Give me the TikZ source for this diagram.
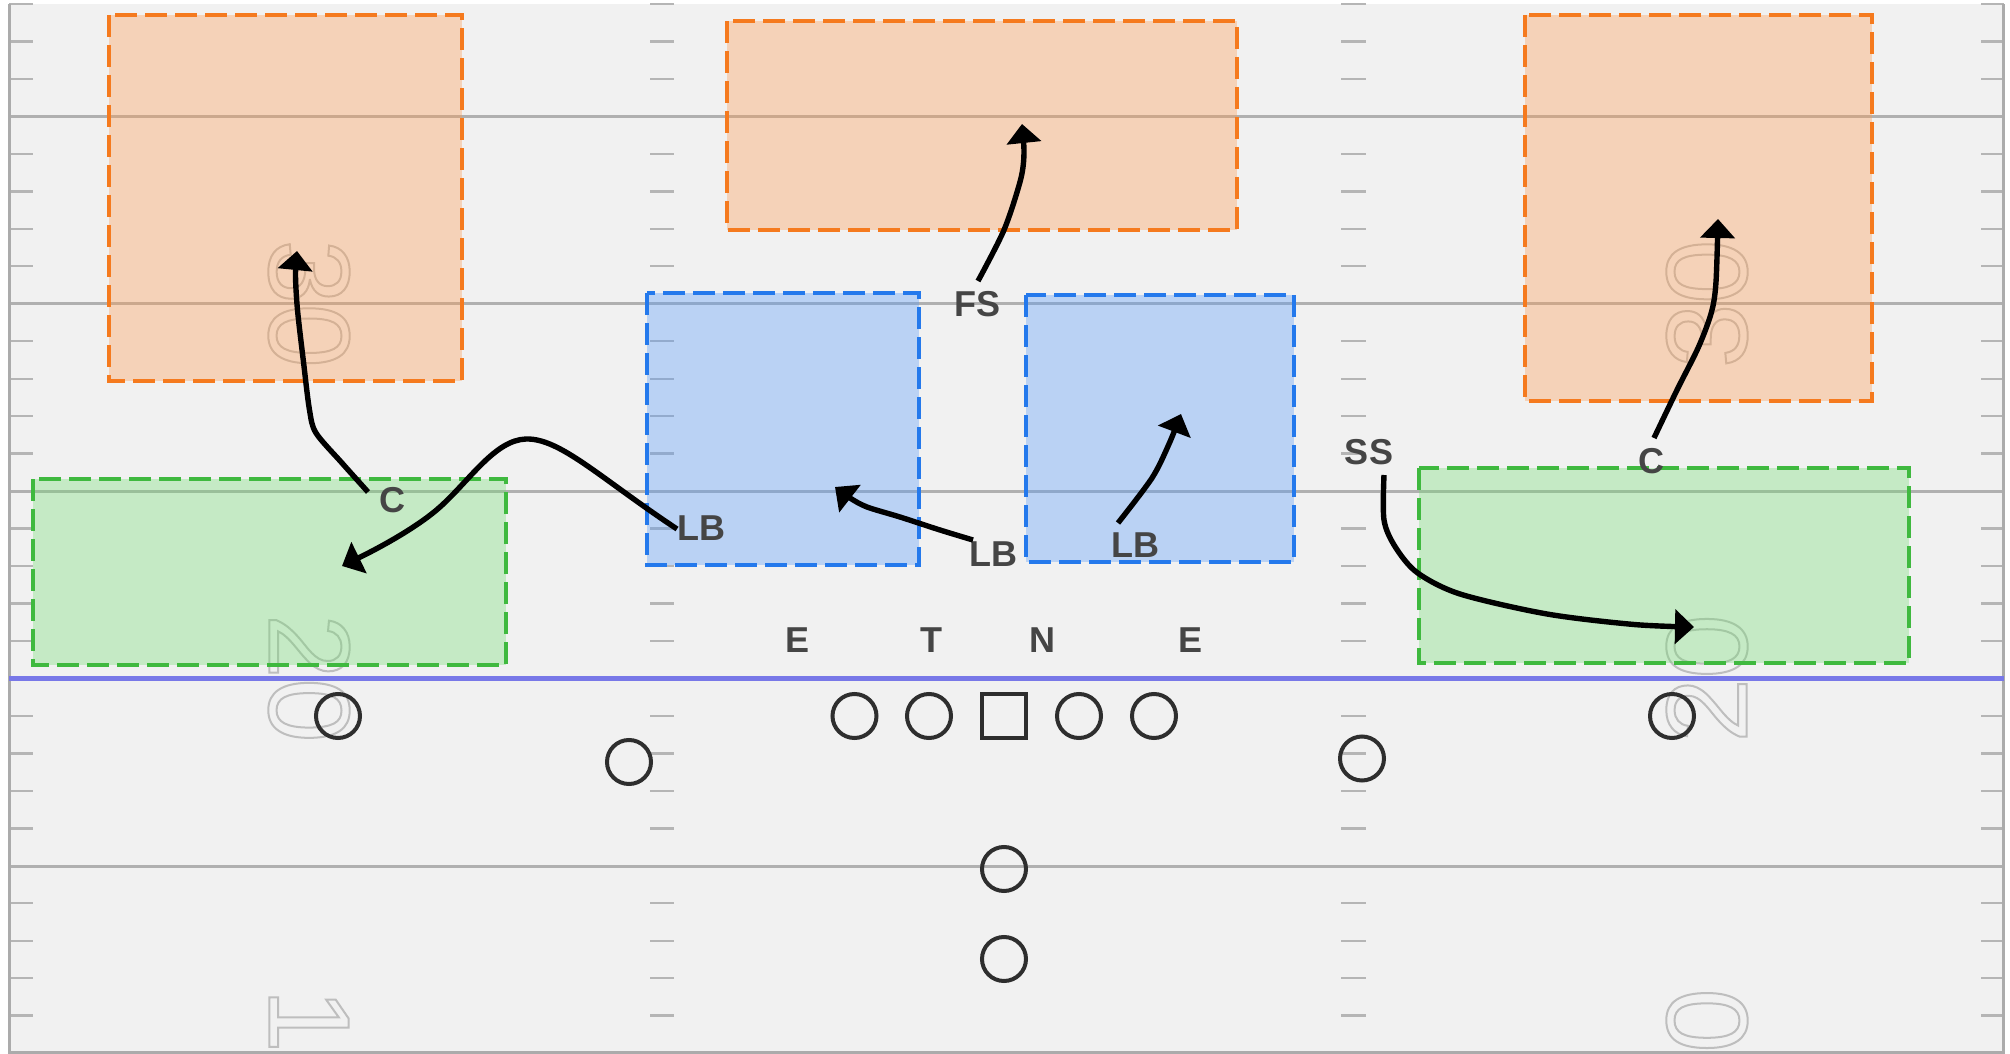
\documentclass[tikz,border=0pt]{standalone}
\usepackage{fontspec}
\setmainfont{Liberation Sans}
\usetikzlibrary{arrows.meta}
\definecolor{fieldbg}{HTML}{F1F1F1}
\definecolor{tickc}{HTML}{B5B5B5}
\definecolor{yardc}{HTML}{B0B0B0}
\definecolor{borderc}{HTML}{ABABAB}
\definecolor{losc}{HTML}{7878E8}
\definecolor{numgray}{HTML}{BEBEBE}
\definecolor{orangeB}{HTML}{F57A1E}
\definecolor{orangeF}{HTML}{FF9B4E}
\definecolor{blueB}{HTML}{2479EC}
\definecolor{blueF}{HTML}{549BFC}
\definecolor{greenB}{HTML}{3FB93F}
\definecolor{greenF}{HTML}{73DD73}
\definecolor{playerc}{HTML}{2E2E2E}
\definecolor{labelc}{HTML}{454545}
\newcommand{\outlinetext}[1]{\special{pdf:literal direct 1 Tr 1 w}#1\special{pdf:literal direct 0 Tr}}
\begin{document}
\begin{tikzpicture}[x=0.5pt,y=-0.5pt,
  tickline/.style={draw=tickc, line width=1.2pt},
  yardline/.style={draw=yardc, line width=1.5pt},
  yardnum/.style={inner sep=0pt, text=numgray, font=\fontsize{57.5}{60}\selectfont},
  zone/.style={line width=1.6pt, dash pattern=on 11pt off 4pt, fill opacity=0.35},
  zoneO/.style={zone, draw=orangeB, fill=orangeF},
  zoneB/.style={zone, draw=blueB, fill=blueF},
  zoneG/.style={zone, draw=greenB, fill=greenF},
  pl/.style={circle, draw=playerc, line width=2pt, minimum size=22pt, inner sep=0pt},
  ctr/.style={rectangle, draw=playerc, line width=2pt, minimum size=22.25pt, inner sep=0pt},
  lbl/.style={inner sep=0pt, text=labelc, font=\bfseries\fontsize{18}{20}\selectfont},
  route/.style={draw=black, line width=2.7pt, -{Triangle[length=9.5pt,width=17pt]}}
]
\useasboundingbox (0,0) rectangle (2010,1054);
\fill[white] (0,0) rectangle (2010,1054);
\fill[fieldbg] (9,4) rectangle (2004,1052);
% ticks
\foreach \k in {0,...,27}{
  \pgfmathsetmacro\yy{4+37.47*\k}
  \draw[tickline] (9,\yy) -- (33,\yy);
  \draw[tickline] (650,\yy) -- (674,\yy);
  \draw[tickline] (1341,\yy) -- (1366,\yy);
  \draw[tickline] (1981,\yy) -- (2004,\yy);
}
% yard lines
\foreach \yy in {116.4,303.8,491.1,866}{
  \draw[yardline] (9,\yy) -- (2004,\yy);
}
% borders
\draw[draw=borderc, line width=1.5pt] (9.5,4) -- (9.5,1052) -- (2003.5,1052) -- (2003.5,4);
% yard numbers
\begin{scope}
\clip (9,4) rectangle (2004,1052);
\foreach \yy/\t in {303.8/30, 678.4/20, 1052.5/10}{
  \node[yardnum, rotate=-90] (numL\t) at (309,\yy) {\outlinetext{\t}};
  \node[yardnum, rotate=90] (numR\t) at (1707,\yy) {\outlinetext{\t}};
}
\end{scope}
% zones
\draw[zoneO] (109,15) rectangle (462,381);
\draw[zoneO] (727,21) rectangle (1237,230);
\draw[zoneO] (1525,15) rectangle (1872,401);
\draw[zoneB] (647,293) rectangle (919,565);
\draw[zoneB] (1026,295) rectangle (1294,562);
\draw[zoneG] (33,479) rectangle (506,665);
\draw[zoneG] (1419,468) rectangle (1909,663);
% line of scrimmage
\draw[draw=losc, line width=2.5pt] (9,678.4) -- (2004,678.4);
% offense
\node[pl] (wrL) at (338,716) {};
\node[pl] (slotL) at (629,762) {};
\node[pl] (lt) at (854.5,716) {};
\node[pl] (lg) at (929,716) {};
\node[ctr] (ctr) at (1004,716) {};
\node[pl] (rg) at (1079,716) {};
\node[pl] (rt) at (1154,716) {};
\node[pl] (slotR) at (1362,758.5) {};
\node[pl] (wrR) at (1672,716) {};
\node[pl] (qb) at (1004,869) {};
\node[pl] (rb) at (1004,959) {};
% defense labels
\node[lbl] (cL) at (392,500) {C};
\node[lbl] (lbL) at (701,528) {LB};
\node[lbl] (lbM) at (993,554) {LB};
\node[lbl] (lbR) at (1135,545) {LB};
\node[lbl] (fs) at (977,304) {FS};
\node[lbl] (ss) at (1369,452) {SS};
\node[lbl] (cR) at (1651,461) {C};
\node[lbl] (eL) at (797,640.5) {E};
\node[lbl] (tk) at (931,640.5) {T};
\node[lbl] (ng) at (1042.5,640.5) {N};
\node[lbl] (eR) at (1190,640.5) {E};
% route end points
\coordinate (r1a) at (368,492);  \coordinate (r1z) at (297,251);
\coordinate (r2a) at (677,529);  \coordinate (r2z) at (342,566);
\coordinate (r3a) at (973,540);  \coordinate (r3z) at (835,487);
\coordinate (r4a) at (1118,523); \coordinate (r4z) at (1181,414);
\coordinate (r5a) at (978,281);  \coordinate (r5z) at (1022,124);
\coordinate (r6a) at (1384,475); \coordinate (r6z) at (1694,627);
\coordinate (r7a) at (1654,438); \coordinate (r7z) at (1718,219);
% routes
\draw[route] plot[smooth] coordinates {(r1a) (342,463) (316,433) (309.5,410) (303.5,362) (297.5,310) (295.5,275) (r1z)};
\draw[route] (r2a) .. controls (600,478) and (560,438) .. (526,439)
                   .. controls (495,440) and (470,480) .. (440,507)
                   .. controls (420,525) and (385,545) .. (r2z);
\draw[route] plot[smooth] coordinates {(r3a) (940,530) (900,517) (867,507) (850,498) (r3z)};
\draw[route] plot[smooth] coordinates {(r4a) (1152,478) (1169,444) (r4z)};
\draw[route] plot[smooth] coordinates {(r5a) (1004,230) (1020.5,180) (1024,153) (r5z)};
\draw[route] plot[smooth] coordinates {(r6a) (1384,520) (1395,546.5) (1417,572.5) (1460,594) (1547,614) (1634,624.5) (r6z)};
\draw[route] plot[smooth] coordinates {(r7a) (1677,390) (1698.5,347) (1711.5,312) (1716,282) (r7z)};
\end{tikzpicture}
\end{document}
